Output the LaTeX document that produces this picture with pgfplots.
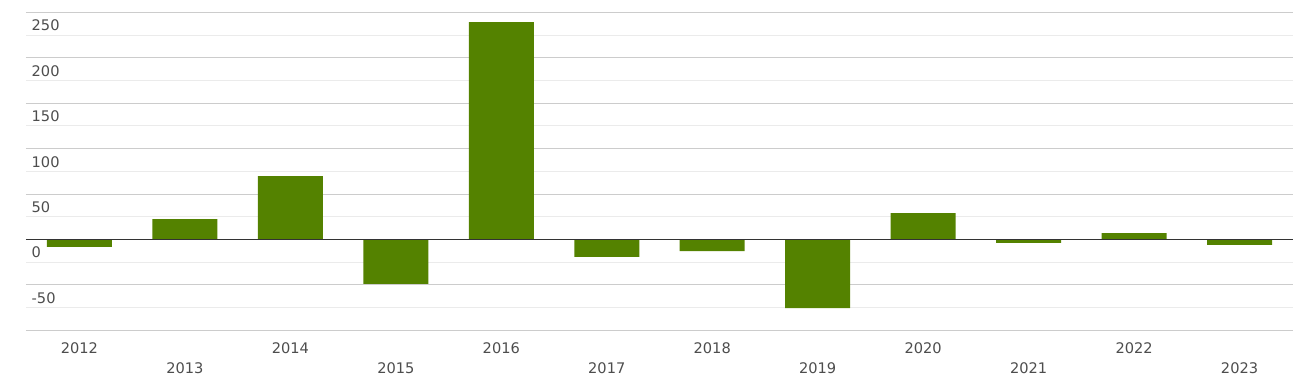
\documentclass[border=0pt]{standalone}
\usepackage{pgfplots}
\pgfplotsset{compat=1.18}
\usepackage{fontspec}
\setmainfont{DejaVu Sans}
\definecolor{barg}{HTML}{548200}
\definecolor{txt}{HTML}{4D4D4D}
\definecolor{gmaj}{HTML}{CCCCCC}
\definecolor{gmin}{HTML}{EBEBEB}
\definecolor{zero}{HTML}{333333}
\begin{document}
\begin{tikzpicture}
\begin{axis}[
  name=ax,
  at={(0,0)}, anchor=south west,
  scale only axis,
  width=1267bp, height=318bp,
  xmin=-0.507, xmax=11.507,
  ymin=-100, ymax=250,
  axis line style={draw=none},
  tick style={draw=none},
  ytick={-100,-50,0,50,100,150,200,250},
  yticklabels={,-50,0,50,100,150,200,250},
  minor y tick num=1,
  ymajorgrids, yminorgrids,
  major grid style={color=gmaj, line width=0.8bp},
  minor grid style={color=gmin, line width=0.8bp},
  yticklabel style={anchor=north west, inner sep=0pt, xshift=5.5bp, yshift=-7.4bp},
  ticklabel style={font=\fontsize{14.6bp}{17bp}\selectfont, text=txt},
  xtick={0,2,4,6,8,10},
  xticklabels={2012,2014,2016,2018,2020,2022},
  xticklabel style={anchor=north, inner sep=0pt, yshift=-12bp},
  extra x ticks={1,3,5,7,9,11},
  extra x tick labels={2013,2015,2017,2019,2021,2023},
  extra x tick style={xticklabel style={yshift=-20bp}},
]
\addplot[ybar, bar width=65bp, bar shift=0pt, fill=barg, draw=none]
  coordinates {(0,-8.1) (1,22.3) (2,69.7) (3,-48.9) (4,239.2) (5,-19.1)
               (6,-12.9) (7,-75.6) (8,28.9) (9,-3.7) (10,6.9) (11,-5.9)};
\draw[zero, line width=1.2bp] (axis cs:-0.507,0) -- (axis cs:11.507,0);
\end{axis}
\pgfresetboundingbox
\path ([xshift=-26bp,yshift=12.3bp]ax.north west) rectangle ([yshift=-53.7bp]ax.south east);
\end{tikzpicture}
\end{document}
